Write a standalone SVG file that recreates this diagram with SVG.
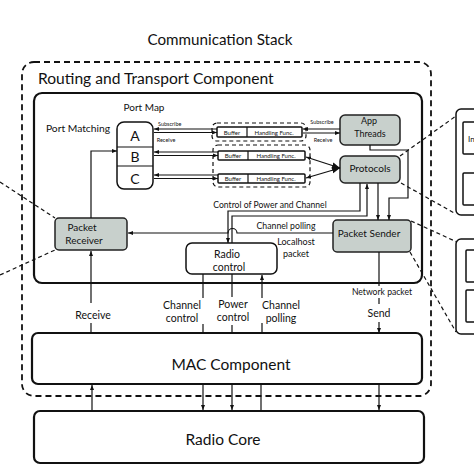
<svg xmlns="http://www.w3.org/2000/svg" width="474" height="474" viewBox="0 0 474 474">
<defs>
<marker id="ah" viewBox="0 0 10 10" refX="10" refY="5" markerWidth="5" markerHeight="5" markerUnits="userSpaceOnUse" orient="auto-start-reverse"><path d="M0,1 L10,5 L0,9 z" fill="#111"/></marker>
<marker id="ahb" viewBox="0 0 10 10" refX="10" refY="5" markerWidth="8" markerHeight="8" markerUnits="userSpaceOnUse" orient="auto-start-reverse"><path d="M0,1 L10,5 L0,9 z" fill="#111"/></marker>
</defs>
<style>
text{font-family:Lato,"Liberation Sans",sans-serif;fill:#111;text-anchor:middle}
.box{fill:#fff;stroke:#111;stroke-width:1.5}
.gray{fill:#c8d0cc;stroke:#222;stroke-width:1.5}
.big{fill:#fff;stroke:#111;stroke-width:2.2}
.dash{fill:none;stroke:#111;stroke-width:1.8;stroke-dasharray:6 4}
.ddash{fill:none;stroke:#111;stroke-width:1.2;stroke-dasharray:4 3}
.ln{fill:none;stroke:#111;stroke-width:1.2}
.ar{fill:none;stroke:#111;stroke-width:1.2;marker-end:url(#ah)}
.bar{fill:none;stroke:#111;stroke-width:1.2;marker-end:url(#ahb);marker-start:url(#ah)}
.lab{font-size:10.5px}
</style>

<text x="220" y="45" font-size="15.2">Communication Stack</text>

<g id="communication-stack"><rect class="dash" x="22" y="62" width="409" height="334" rx="12"/></g>
<text x="38" y="84" font-size="15.6" style="text-anchor:start">Routing and Transport Component</text>

<g id="routing-transport"><rect x="34" y="93" width="388" height="190" rx="8" fill="#fff" stroke="#111" stroke-width="2.2"/></g>

<text x="144" y="111" font-size="10">Port Map</text>
<text x="78" y="132" font-size="10.3">Port Matching</text>

<g id="port-map">
<rect class="box" x="117" y="122" width="36" height="67" rx="7"/>
<line class="ln" x1="117" y1="147" x2="153" y2="147"/>
<line class="ln" x1="117" y1="166" x2="153" y2="166"/>
<text x="135" y="141" font-size="14">A</text>
<text x="135" y="162" font-size="14">B</text>
<text x="135" y="184" font-size="14">C</text>
</g>

<g id="buffer-group-1">
<rect class="ddash" x="212" y="123" width="94" height="18" rx="5"/>
<rect class="box" x="217" y="127" width="85" height="10" rx="1" stroke-width="1"/>
<line class="ln" x1="247" y1="127" x2="247" y2="137"/>
<text x="232" y="134.5" font-size="6">Buffer</text>
<text x="274" y="134.5" font-size="6">Handling Func.</text>
</g>
<g id="buffer-group-2">
<rect class="ddash" x="213" y="145" width="97" height="42" rx="5"/>
<rect class="box" x="218" y="151" width="87" height="9" rx="1" stroke-width="1"/>
<line class="ln" x1="248" y1="151" x2="248" y2="160"/>
<text x="233" y="158" font-size="6">Buffer</text>
<text x="276" y="158" font-size="6">Handling Func.</text>
<rect class="box" x="218" y="174" width="87" height="9" rx="1" stroke-width="1"/>
<line class="ln" x1="248" y1="174" x2="248" y2="183"/>
<text x="233" y="181" font-size="6">Buffer</text>
<text x="276" y="181" font-size="6">Handling Func.</text>
</g>

<g id="app-threads">
<rect class="gray" x="340" y="115" width="60" height="30" rx="5"/>
<text x="369" y="124" font-size="9">App</text>
<text x="370" y="137" font-size="9">Threads</text>
</g>
<g id="protocols">
<rect class="gray" x="340" y="156" width="60" height="27" rx="5"/>
<text x="370" y="172" font-size="10">Protocols</text>
</g>
<g id="packet-sender">
<rect class="gray" x="333" y="220" width="78" height="32" rx="4"/>
<text x="369" y="237" font-size="10">Packet Sender</text>
</g>
<g id="packet-receiver">
<rect class="gray" x="55" y="218" width="72" height="32" rx="4"/>
<text x="82" y="231" font-size="10">Packet</text>
<text x="84" y="244" font-size="10">Receiver</text>
</g>
<g id="radio-control">
<rect class="box" x="186" y="243" width="91" height="31" rx="6"/>
<text x="227" y="258" font-size="10.5">Radio</text>
<text x="229" y="271" font-size="10.5">control</text>
</g>

<g id="mac-component">
<rect class="big" x="32" y="333" width="390" height="51" rx="6"/>
<text x="231" y="370" font-size="15.5">MAC Component</text>
</g>
<g id="radio-core">
<rect class="big" x="34" y="411" width="390" height="52" rx="6"/>
<text x="223" y="445" font-size="15.5">Radio Core</text>
</g>

<g id="right-box-1">
<rect class="box" x="456" y="109" width="40" height="106" rx="5"/>
<rect class="box" x="463" y="122" width="30" height="32" rx="1" stroke-width="1.2"/>
<text x="468" y="142" font-size="8" style="text-anchor:start">In</text>
<rect class="box" x="463" y="173" width="30" height="32" rx="1" stroke-width="1.2"/>
</g>
<g id="right-box-2">
<rect class="box" x="456" y="239" width="40" height="95" rx="5"/>
<rect class="box" x="466" y="250" width="30" height="32" rx="1" stroke-width="1.2"/>
<rect class="box" x="466" y="290" width="30" height="32" rx="1" stroke-width="1.2"/>
</g>

<g id="connectors">
<line class="ar" x1="217" y1="129" x2="154" y2="129"/>
<line class="ar" x1="154" y1="132.5" x2="217" y2="132.5"/>
<line class="ar" x1="218" y1="152" x2="154" y2="152"/>
<line class="ar" x1="154" y1="155.5" x2="218" y2="155.5"/>
<line class="ar" x1="218" y1="175" x2="154" y2="175"/>
<line class="ar" x1="154" y1="178.5" x2="218" y2="178.5"/>
<text x="158" y="126" font-size="5.5" style="text-anchor:start">Subscribe</text>
<text x="166" y="142" font-size="5.5">Receive</text>
<line class="ar" x1="340" y1="129" x2="303" y2="129"/>
<line class="ar" x1="303" y1="133" x2="340" y2="133"/>
<text x="322" y="124" font-size="5.5">Subscribe</text>
<text x="323" y="142" font-size="5.5">Receive</text>
<line class="bar" x1="306" y1="157" x2="340" y2="168"/>
<line class="bar" x1="306" y1="178" x2="340" y2="168"/>
<polyline class="ar" points="91,218 91,151 117,151"/>
<line class="ln" x1="91" y1="333" x2="91" y2="323"/>
<line class="ar" x1="91" y1="303" x2="91" y2="251"/>
<text x="93" y="319" class="lab">Receive</text>
<polyline class="ar" points="370,145 370,150 408,150 408,198 389,198 389,220"/>
<line class="ar" x1="378" y1="183" x2="378" y2="220"/>
<polyline class="ar" points="360,183 360,211 228,211 228,243"/>
<polyline class="ar" points="232,243 232,216 367,216 367,184"/>
<text x="270" y="208" font-size="8.6">Control of Power and Channel</text>
<path class="ar" d="M333,233 H237 A4.5,4.5 0 0 0 228,233 H128"/>
<text x="286" y="229" font-size="8.7">Channel polling</text>
<text x="296" y="245" font-size="9">Localhost</text>
<text x="296" y="257" font-size="9">packet</text>
<line class="ln" x1="203" y1="274" x2="203" y2="298"/>
<line class="ln" x1="203" y1="324" x2="203" y2="333"/>
<line class="ln" x1="232" y1="274" x2="232" y2="297"/>
<line class="ln" x1="232" y1="325" x2="232" y2="333"/>
<line class="ar" x1="262" y1="298" x2="262" y2="275"/>
<line class="ln" x1="262" y1="323" x2="262" y2="333"/>
<text x="182" y="309" class="lab">Channel</text>
<text x="182" y="322" class="lab">control</text>
<text x="233" y="308" class="lab">Power</text>
<text x="233" y="321" class="lab">control</text>
<text x="281" y="309" class="lab">Channel</text>
<text x="281" y="322" class="lab">polling</text>
<line class="ln" x1="379" y1="252" x2="379" y2="286"/>
<line class="ln" x1="379" y1="298" x2="379" y2="304"/>
<line class="ar" x1="379" y1="322" x2="379" y2="333"/>
<text x="382" y="295" font-size="8.6">Network packet</text>
<text x="379" y="317" class="lab">Send</text>
<line class="ar" x1="92" y1="411" x2="92" y2="385"/>
<line class="ar" x1="203" y1="384" x2="203" y2="410"/>
<line class="ar" x1="232" y1="384" x2="232" y2="410"/>
<line class="ln" x1="261" y1="384" x2="261" y2="411"/>
<line class="ar" x1="379" y1="384" x2="379" y2="410"/>
<line class="ddash" x1="0" y1="182" x2="55" y2="218"/>
<line class="ddash" x1="0" y1="275" x2="55" y2="250"/>
<line class="ddash" x1="400" y1="156" x2="456" y2="116"/>
<line class="ddash" x1="401" y1="183" x2="456" y2="214"/>
<line class="ddash" x1="411" y1="221" x2="457" y2="242"/>
<line class="ddash" x1="410" y1="252" x2="456" y2="332"/>
</g>
</svg>
